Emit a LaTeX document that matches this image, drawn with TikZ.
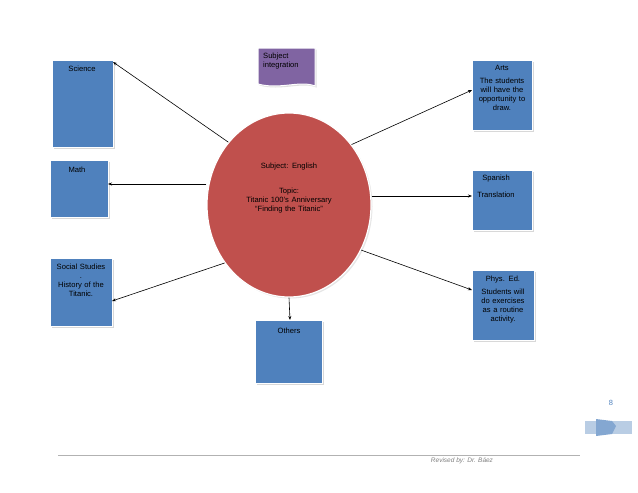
\documentclass[tikz,border=0pt]{standalone}
\usepackage{fontspec}
\setmainfont{Liberation Sans}
\usetikzlibrary{shapes.geometric,arrows.meta,shadows}
\definecolor{boxblue}{HTML}{4F81BD}
\definecolor{ellred}{HTML}{C0504D}
\definecolor{purp}{HTML}{8064A2}
\tikzset{
 bx/.style={fill=boxblue,draw=white,line width=1pt,drop shadow={shadow xshift=2pt,shadow yshift=-2pt,fill=gray!60}},
 tx/.style={font=\fontsize{7.6}{9}\selectfont,align=center,text width=#1,inner sep=0pt},
 con/.style={draw=black,line width=0.6pt,-{Stealth[length=4pt,width=3pt]}}
}
\begin{document}
\begin{tikzpicture}[x=1pt,y=-1pt]
\useasboundingbox (0,0) rectangle (638,493);
% boxes
\path[bx] (52,60) rectangle (113,147); \coordinate (sci) at (113,62);
\path[bx] (50,160) rectangle (108,217); \coordinate (math) at (108,184);
\path[bx] (50,258) rectangle (112,326); \coordinate (soc) at (112,301);
\path[bx] (472,60) rectangle (532,130); \coordinate (arts) at (472,90);
\path[bx] (472,170) rectangle (532,230); \coordinate (span) at (472,196);
\path[bx] (472,270) rectangle (534,340); \coordinate (phys) at (472,290);
\path[bx] (255,320) rectangle (322,383); \coordinate (oth) at (290,320);
\node[tx=60] (tsci) at (82,69) {Science};
\node[tx=60] (tmath) at (77,170) {Math};
\node[tx=62,anchor=north] (tsoc) at (81,264) {Social Studies\\.\\History of the\\Titanic.};
\node[tx=60,anchor=north] (tarts) at (502,65) {Arts\\[4pt]The students\\will have the\\opportunity to\\draw.};
\node[tx=58,anchor=north] (tspan) at (496,175) {Spanish\\[8pt]Translation};
\node[tx=62,anchor=north] (tphys) at (503,276) {Phys. Ed.\\[4pt]Students will\\do exercises\\as a routine\\activity.};
\node[tx=60] (toth) at (289,331) {Others};
% subject integration
\path[fill=purp,draw=white,line width=1pt,drop shadow={shadow xshift=1.5pt,shadow yshift=-1.5pt,fill=gray!50}]
 (258,48) -- (315,48) -- (315,86) .. controls (300,80) and (280,90) .. (258,84) -- cycle;
\node[tx=50,align=left,anchor=north west] (tsub) at (263,53) {Subject\\integration};
% ellipse
\node[ellipse,fill=ellred,draw=white,line width=1.2pt,minimum width=164pt,minimum height=184pt,inner sep=0pt,
 drop shadow={shadow xshift=1.5pt,shadow yshift=-1.5pt,fill=gray!40}] (ell) at (289,205) {};
\node[tx=130] (tell) at (289,167) {Subject: English};
\node[tx=130,anchor=north] (tell2) at (289,188) {Topic:\\Titanic 100's Anniversary\\``Finding the Titanic''};
% connectors
\draw[con] (ell.134) -- (sci);
\draw[con] (ell.west |- math) -- (math);
\draw[con] (ell.222) -- (soc);
\draw[con] (ell.44) -- (arts);
\draw[con] (ell.east |- span) -- (span);
\draw[con] (ell.-32) -- (phys);
\draw[con] (ell.south) -- (oth);
% footer
\draw[gray!60,line width=0.5pt] (58,455) -- (580,455);
\node[font=\fontsize{6.5}{7}\selectfont\itshape,text=gray] (rev) at (462,461) {Revised by: Dr. Báez};
\node[font=\fontsize{7.5}{8}\selectfont,text=boxblue] (pg) at (611,403) {8};
\fill[boxblue!40] (585,421) rectangle (632,434);
\fill[boxblue!70] (596,419) -- (612,421) -- (616,426) -- (612,434) -- (596,436) -- cycle;
\end{tikzpicture}
\end{document}
